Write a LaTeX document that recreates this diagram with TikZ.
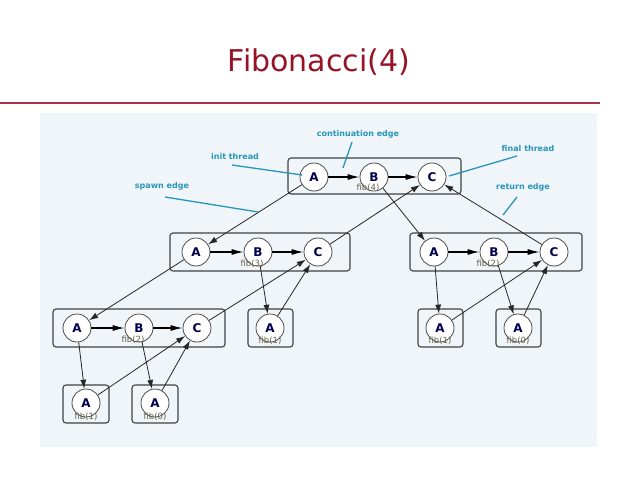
\documentclass[tikz,border=0pt]{standalone}
\usepackage{fontspec}
\setmainfont{DejaVu Sans}
\usetikzlibrary{arrows.meta}
\definecolor{teal1}{RGB}{40,150,185}
\definecolor{ttl}{RGB}{150,20,40}
\definecolor{panel}{RGB}{240,245,250}
\begin{document}
\begin{tikzpicture}[x=1pt,y=-1pt,
  th/.style={circle,draw=black!70,fill=white,line width=0.8pt,minimum size=28pt,inner sep=0pt,font=\bfseries\fontsize{12}{12}\selectfont,text=blue!30!black},
  fr/.style={draw=black!75,rounded corners=3pt,line width=1.1pt},
  fl/.style={font=\fontsize{8.5}{9}\selectfont,text=black!70!yellow},
  ed/.style={-{Latex[length=9pt,width=6pt]},black!85,line width=0.8pt},
  ce/.style={-{Latex[length=12pt,width=6pt]},black,line width=1.2pt},
  an/.style={teal1,line width=1.3pt},
  al/.style={font=\bfseries\fontsize{8}{9}\selectfont,text=teal1}]
\useasboundingbox (0,0) rectangle (638,479);
\fill[white] (0,0) rectangle (638,479);
\fill[panel] (40,113) rectangle (597,447);
\node[font=\fontsize{30}{32}\selectfont,text=ttl] (title) at (319,62) {Fibonacci(4)};
\draw[ttl!85,line width=2.5pt] (0,103) -- (600,103);
% frames
\draw[fr] (288,158) rectangle (461,194);
\draw[fr] (170,233) rectangle (350,271);
\draw[fr] (410,233) rectangle (582,271);
\draw[fr] (53,309) rectangle (225,347);
\draw[fr] (248,309) rectangle (293,347);
\draw[fr] (418,309) rectangle (463,347);
\draw[fr] (496,309) rectangle (541,347);
\draw[fr] (63,385) rectangle (109,423);
\draw[fr] (132,385) rectangle (178,423);
% threads
\node[th] (a4) at (314,177) {A}; \node[th] (b4) at (374,177) {B}; \node[th] (c4) at (432,177) {C};
\node[th] (a3) at (196,252) {A}; \node[th] (b3) at (258,252) {B}; \node[th] (c3) at (318,252) {C};
\node[th] (a2r) at (434,252) {A}; \node[th] (b2r) at (494,252) {B}; \node[th] (c2r) at (554,252) {C};
\node[th] (a2l) at (77,328) {A}; \node[th] (b2l) at (139,328) {B}; \node[th] (c2l) at (197,328) {C};
\node[th] (a1m) at (270,328) {A};
\node[th] (a1r) at (440,328) {A};
\node[th] (a0r) at (518,328) {A};
\node[th] (a1b) at (86,403) {A};
\node[th] (a0b) at (155,403) {A};
% frame labels
\node[fl] (f4) at (368,188) {fib(4)};
\node[fl] (f3) at (252,264) {fib(3)};
\node[fl] (f2r) at (488,264) {fib(2)};
\node[fl] (f2l) at (133,340) {fib(2)};
\node[fl] (f1m) at (270,341) {fib(1)};
\node[fl] (f1r) at (440,341) {fib(1)};
\node[fl] (f0r) at (518,341) {fib(0)};
\node[fl] (f1b) at (86,417) {fib(1)};
\node[fl] (f0b) at (155,417) {fib(0)};
% continuation edges
\foreach \p/\q in {a4/b4,b4/c4,a3/b3,b3/c3,a2r/b2r,b2r/c2r,a2l/b2l,b2l/c2l}
  \draw[ce] (\p) -- (\q);
% spawn / return edges
\draw[ed] (a4) -- (a3);
\draw[ed] (c3) -- (c4);
\draw[ed] (b4) -- (a2r);
\draw[ed] (c2r) -- (c4);
\draw[ed] (a3) -- (a2l);
\draw[ed] (c2l) -- (c3);
\draw[ed] (b3) -- (a1m);
\draw[ed] (a1m) -- (c3);
\draw[ed] (a2r) -- (a1r);
\draw[ed] (b2r) -- (a0r);
\draw[ed] (a1r) -- (c2r);
\draw[ed] (a0r) -- (c2r);
\draw[ed] (a2l) -- (a1b);
\draw[ed] (b2l) -- (a0b);
\draw[ed] (a1b) -- (c2l);
\draw[ed] (a0b) -- (c2l);
% annotations
\node[al] (l1) at (358,134) {continuation edge};
\node[al] (l2) at (235,157) {init thread};
\node[al] (l3) at (528,149) {final thread};
\node[al] (l4) at (162,186) {spawn edge};
\node[al] (l5) at (523,187) {return edge};
\coordinate (e1) at (343,168); \coordinate (e2) at (302,175);
\coordinate (e3) at (449,176); \coordinate (e4) at (258,212);
\coordinate (e5) at (503,215);
\draw[an] (352,142) -- (e1);
\draw[an] (232,165) -- (e2);
\draw[an] (517,156) -- (e3);
\draw[an] (165,197) -- (e4);
\draw[an] (517,197) -- (e5);
\end{tikzpicture}
\end{document}
